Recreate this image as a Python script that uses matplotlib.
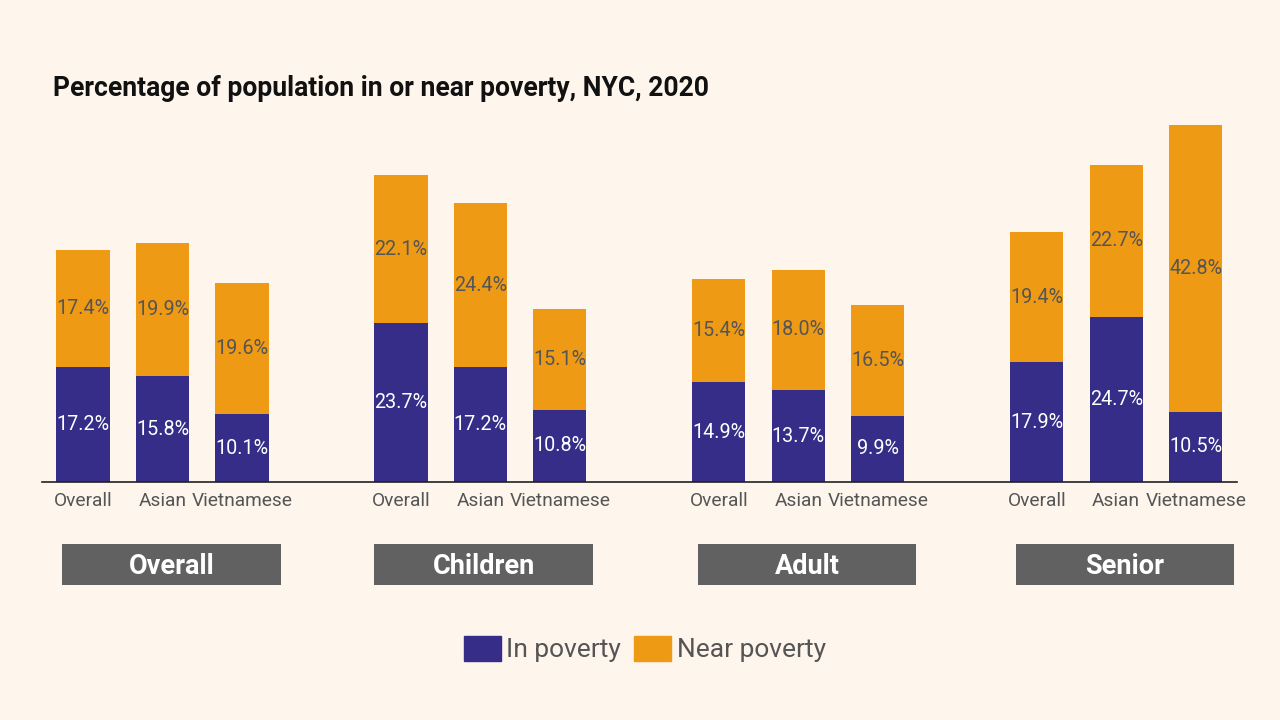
import matplotlib
matplotlib.use("Agg")
import matplotlib.pyplot as plt
from matplotlib.patches import Rectangle, Patch
import numpy as np

plt.rcParams['font.family'] = ['Roboto', 'DejaVu Sans']

# data
groups = ["Overall", "Children", "Adult", "Senior"]
subgroups = ["Overall", "Asian", "Vietnamese"]
in_poverty = [17.2, 15.8, 10.1,
              23.7, 17.2, 10.8,
              14.9, 13.7, 9.9,
              17.9, 24.7, 10.5]
near_poverty = [17.4, 19.9, 19.6,
                22.1, 24.4, 15.1,
                15.4, 18.0, 16.5,
                19.4, 22.7, 42.8]

bg = "#fef5ec"
purple = "#352d87"
orange = "#ee9a15"
grey_txt = "#555555"

# bar positions: 3 bars per group, one empty slot between groups
x = np.array([4 * g + i for g in range(len(groups)) for i in range(len(subgroups))])
tick_labels = subgroups * len(groups)

fig = plt.figure(figsize=(12.8, 7.2), dpi=100, facecolor=bg)
ax = fig.add_axes([42 / 1280, 1 - 482 / 720, (1237 - 42) / 1280, (482 - 125) / 720])
ax.set_facecolor(bg)

ax.bar(x, in_poverty, width=0.67, color=purple)
ax.bar(x, near_poverty, width=0.67, bottom=in_poverty, color=orange)

for xi, a, b in zip(x, in_poverty, near_poverty):
    ax.text(xi, a / 2, f"{a:.1f}%", ha="center", va="center", color="white", fontsize=14.2)
    ax.text(xi, a + b / 2, f"{b:.1f}%", ha="center", va="center", color=grey_txt, fontsize=14.2)

ax.set_xlim(-0.516, 14.52)
ax.set_ylim(0, 53.3)
ax.set_xticks(x)
ax.set_xticklabels(tick_labels, fontsize=13.8, color=grey_txt)
ax.tick_params(axis="x", length=0, pad=7)
ax.set_yticks([])
for s in ["top", "right", "left"]:
    ax.spines[s].set_visible(False)
ax.spines["bottom"].set_color("#222222")
ax.spines["bottom"].set_linewidth(1.2)

# group header boxes below the axis (slightly uneven in the original)
box_w = 2.75
box_top, box_h = -0.174, 0.115
box_shift = [1.113, 1.04, 1.11, 1.11]
for g, name in enumerate(groups):
    cx = 4 * g + box_shift[g]
    r = Rectangle((cx - box_w / 2, box_top - box_h), box_w, box_h, transform=ax.get_xaxis_transform(),
                  facecolor="#616161", edgecolor="none", clip_on=False)
    ax.add_patch(r)
    ax.text(cx, box_top - box_h / 2 - 0.006, name, transform=ax.get_xaxis_transform(), ha="center",
            va="center", color="white", fontsize=19.5, fontweight="bold")

fig.text(53 / 1280, 1 - 88 / 720, "Percentage of population in or near poverty, NYC, 2020",
         ha="left", va="center", fontsize=19.1, fontweight="bold", color="#111111")

handles = [Patch(color=purple, label="In poverty"), Patch(color=orange, label="Near poverty")]
leg = fig.legend(handles=handles, loc="center", bbox_to_anchor=(645 / 1280, 1 - 649 / 720), ncol=2,
                 frameon=False, fontsize=19, handlelength=1.4, handleheight=1.1,
                 handletextpad=0.2, columnspacing=0.5)
for t in leg.get_texts():
    t.set_color(grey_txt)

fig.savefig("out.png", dpi=100, facecolor=bg)
